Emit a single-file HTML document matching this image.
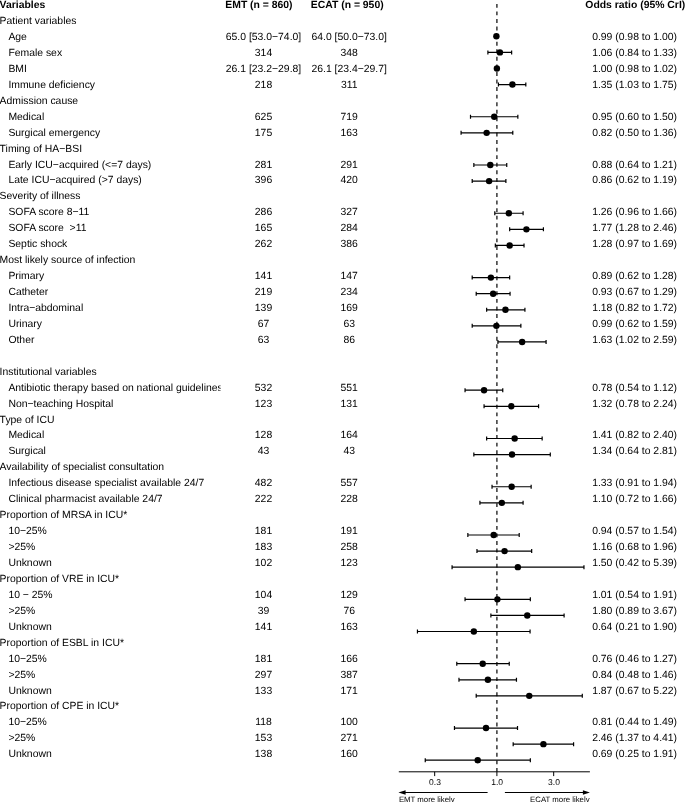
<!DOCTYPE html>
<html><head><meta charset="utf-8"><title>Forest plot</title>
<style>
html,body{margin:0;padding:0;background:#fff;}
body{width:685px;height:802px;overflow:hidden;}
svg{display:block;}
text{font-family:"Liberation Sans",Arial,Helvetica,sans-serif;font-size:10.4px;fill:#000;white-space:pre;text-rendering:geometricPrecision;}
.b{font-weight:bold;}
.s{font-size:8.5px;}
.a{font-size:7.8px;}
</style></head><body>
<svg width="685" height="802" viewBox="0 0 685 802">
<defs><clipPath id="c1"><rect x="0" y="0" width="220.6" height="802"/></clipPath></defs>
<rect width="685" height="802" fill="#fff"/>

<g clip-path="url(#c1)">
<text x="-0.40" y="8.10" class="b" xml:space="preserve">Variables</text>
<text x="-0.40" y="24.04" xml:space="preserve">Patient variables</text>
<text x="8.40" y="39.98" xml:space="preserve">Age</text>
<text x="8.40" y="55.92" xml:space="preserve">Female sex</text>
<text x="8.40" y="71.86" xml:space="preserve">BMI</text>
<text x="8.40" y="87.80" xml:space="preserve">Immune deficiency</text>
<text x="-0.40" y="103.74" xml:space="preserve">Admission cause</text>
<text x="8.40" y="119.68" xml:space="preserve">Medical</text>
<text x="8.40" y="135.62" xml:space="preserve">Surgical emergency</text>
<text x="-0.40" y="151.56" xml:space="preserve">Timing of HA−BSI</text>
<text x="8.40" y="167.50" xml:space="preserve">Early ICU−acquired (&lt;=7 days)</text>
<text x="8.40" y="183.44" xml:space="preserve">Late ICU−acquired (&gt;7 days)</text>
<text x="-0.40" y="199.38" xml:space="preserve">Severity of illness</text>
<text x="8.40" y="215.32" xml:space="preserve">SOFA score 8−11</text>
<text x="8.40" y="231.26" xml:space="preserve">SOFA score  &gt;11</text>
<text x="8.40" y="247.20" xml:space="preserve">Septic shock</text>
<text x="-0.40" y="263.14" xml:space="preserve">Most likely source of infection</text>
<text x="8.40" y="279.08" xml:space="preserve">Primary</text>
<text x="8.40" y="295.02" xml:space="preserve">Catheter</text>
<text x="8.40" y="310.96" xml:space="preserve">Intra−abdominal</text>
<text x="8.40" y="326.90" xml:space="preserve">Urinary</text>
<text x="8.40" y="342.84" xml:space="preserve">Other</text>
<text x="-0.40" y="374.72" xml:space="preserve">Institutional variables</text>
<text x="8.40" y="390.66" xml:space="preserve">Antibiotic therapy based on national guidelines</text>
<text x="8.40" y="406.60" xml:space="preserve">Non−teaching Hospital</text>
<text x="-0.40" y="422.54" xml:space="preserve">Type of ICU</text>
<text x="8.40" y="438.48" xml:space="preserve">Medical</text>
<text x="8.40" y="454.42" xml:space="preserve">Surgical</text>
<text x="-0.40" y="470.36" xml:space="preserve">Availability of specialist consultation</text>
<text x="8.40" y="486.30" xml:space="preserve">Infectious disease specialist available 24/7</text>
<text x="8.40" y="502.24" xml:space="preserve">Clinical pharmacist available 24/7</text>
<text x="-0.40" y="518.18" xml:space="preserve">Proportion of MRSA in ICU*</text>
<text x="8.40" y="534.12" xml:space="preserve">10−25%</text>
<text x="8.40" y="550.06" xml:space="preserve">&gt;25%</text>
<text x="8.40" y="566.00" xml:space="preserve">Unknown</text>
<text x="-0.40" y="581.94" xml:space="preserve">Proportion of VRE in ICU*</text>
<text x="8.40" y="597.88" xml:space="preserve">10 − 25%</text>
<text x="8.40" y="613.82" xml:space="preserve">&gt;25%</text>
<text x="8.40" y="629.76" xml:space="preserve">Unknown</text>
<text x="-0.40" y="645.70" xml:space="preserve">Proportion of ESBL in ICU*</text>
<text x="8.40" y="661.64" xml:space="preserve">10−25%</text>
<text x="8.40" y="677.58" xml:space="preserve">&gt;25%</text>
<text x="8.40" y="693.52" xml:space="preserve">Unknown</text>
<text x="-0.40" y="709.46" xml:space="preserve">Proportion of CPE in ICU*</text>
<text x="8.40" y="725.40" xml:space="preserve">10−25%</text>
<text x="8.40" y="741.34" xml:space="preserve">&gt;25%</text>
<text x="8.40" y="757.28" xml:space="preserve">Unknown</text>
</g>
<text class="b" x="225.3" y="8.10">EMT (n = 860)</text>
<text class="b" x="310.8" y="8.10">ECAT (n = 950)</text>
<text class="b" x="635.3" y="8.10" text-anchor="middle">Odds ratio (95% CrI)</text>
<text x="263.5" y="39.98" text-anchor="middle">65.0 [53.0−74.0]</text>
<text x="349.2" y="39.98" text-anchor="middle">64.0 [50.0−73.0]</text>
<text x="634.6" y="39.98" text-anchor="middle">0.99 (0.98 to 1.00)</text>
<text x="263.5" y="55.92" text-anchor="middle">314</text>
<text x="349.2" y="55.92" text-anchor="middle">348</text>
<text x="634.6" y="55.92" text-anchor="middle">1.06 (0.84 to 1.33)</text>
<text x="263.5" y="71.86" text-anchor="middle">26.1 [23.2−29.8]</text>
<text x="349.2" y="71.86" text-anchor="middle">26.1 [23.4−29.7]</text>
<text x="634.6" y="71.86" text-anchor="middle">1.00 (0.98 to 1.02)</text>
<text x="263.5" y="87.80" text-anchor="middle">218</text>
<text x="349.2" y="87.80" text-anchor="middle">311</text>
<text x="634.6" y="87.80" text-anchor="middle">1.35 (1.03 to 1.75)</text>
<text x="263.5" y="119.68" text-anchor="middle">625</text>
<text x="349.2" y="119.68" text-anchor="middle">719</text>
<text x="634.6" y="119.68" text-anchor="middle">0.95 (0.60 to 1.50)</text>
<text x="263.5" y="135.62" text-anchor="middle">175</text>
<text x="349.2" y="135.62" text-anchor="middle">163</text>
<text x="634.6" y="135.62" text-anchor="middle">0.82 (0.50 to 1.36)</text>
<text x="263.5" y="167.50" text-anchor="middle">281</text>
<text x="349.2" y="167.50" text-anchor="middle">291</text>
<text x="634.6" y="167.50" text-anchor="middle">0.88 (0.64 to 1.21)</text>
<text x="263.5" y="183.44" text-anchor="middle">396</text>
<text x="349.2" y="183.44" text-anchor="middle">420</text>
<text x="634.6" y="183.44" text-anchor="middle">0.86 (0.62 to 1.19)</text>
<text x="263.5" y="215.32" text-anchor="middle">286</text>
<text x="349.2" y="215.32" text-anchor="middle">327</text>
<text x="634.6" y="215.32" text-anchor="middle">1.26 (0.96 to 1.66)</text>
<text x="263.5" y="231.26" text-anchor="middle">165</text>
<text x="349.2" y="231.26" text-anchor="middle">284</text>
<text x="634.6" y="231.26" text-anchor="middle">1.77 (1.28 to 2.46)</text>
<text x="263.5" y="247.20" text-anchor="middle">262</text>
<text x="349.2" y="247.20" text-anchor="middle">386</text>
<text x="634.6" y="247.20" text-anchor="middle">1.28 (0.97 to 1.69)</text>
<text x="263.5" y="279.08" text-anchor="middle">141</text>
<text x="349.2" y="279.08" text-anchor="middle">147</text>
<text x="634.6" y="279.08" text-anchor="middle">0.89 (0.62 to 1.28)</text>
<text x="263.5" y="295.02" text-anchor="middle">219</text>
<text x="349.2" y="295.02" text-anchor="middle">234</text>
<text x="634.6" y="295.02" text-anchor="middle">0.93 (0.67 to 1.29)</text>
<text x="263.5" y="310.96" text-anchor="middle">139</text>
<text x="349.2" y="310.96" text-anchor="middle">169</text>
<text x="634.6" y="310.96" text-anchor="middle">1.18 (0.82 to 1.72)</text>
<text x="263.5" y="326.90" text-anchor="middle">67</text>
<text x="349.2" y="326.90" text-anchor="middle">63</text>
<text x="634.6" y="326.90" text-anchor="middle">0.99 (0.62 to 1.59)</text>
<text x="263.5" y="342.84" text-anchor="middle">63</text>
<text x="349.2" y="342.84" text-anchor="middle">86</text>
<text x="634.6" y="342.84" text-anchor="middle">1.63 (1.02 to 2.59)</text>
<text x="263.5" y="390.66" text-anchor="middle">532</text>
<text x="349.2" y="390.66" text-anchor="middle">551</text>
<text x="634.6" y="390.66" text-anchor="middle">0.78 (0.54 to 1.12)</text>
<text x="263.5" y="406.60" text-anchor="middle">123</text>
<text x="349.2" y="406.60" text-anchor="middle">131</text>
<text x="634.6" y="406.60" text-anchor="middle">1.32 (0.78 to 2.24)</text>
<text x="263.5" y="438.48" text-anchor="middle">128</text>
<text x="349.2" y="438.48" text-anchor="middle">164</text>
<text x="634.6" y="438.48" text-anchor="middle">1.41 (0.82 to 2.40)</text>
<text x="263.5" y="454.42" text-anchor="middle">43</text>
<text x="349.2" y="454.42" text-anchor="middle">43</text>
<text x="634.6" y="454.42" text-anchor="middle">1.34 (0.64 to 2.81)</text>
<text x="263.5" y="486.30" text-anchor="middle">482</text>
<text x="349.2" y="486.30" text-anchor="middle">557</text>
<text x="634.6" y="486.30" text-anchor="middle">1.33 (0.91 to 1.94)</text>
<text x="263.5" y="502.24" text-anchor="middle">222</text>
<text x="349.2" y="502.24" text-anchor="middle">228</text>
<text x="634.6" y="502.24" text-anchor="middle">1.10 (0.72 to 1.66)</text>
<text x="263.5" y="534.12" text-anchor="middle">181</text>
<text x="349.2" y="534.12" text-anchor="middle">191</text>
<text x="634.6" y="534.12" text-anchor="middle">0.94 (0.57 to 1.54)</text>
<text x="263.5" y="550.06" text-anchor="middle">183</text>
<text x="349.2" y="550.06" text-anchor="middle">258</text>
<text x="634.6" y="550.06" text-anchor="middle">1.16 (0.68 to 1.96)</text>
<text x="263.5" y="566.00" text-anchor="middle">102</text>
<text x="349.2" y="566.00" text-anchor="middle">123</text>
<text x="634.6" y="566.00" text-anchor="middle">1.50 (0.42 to 5.39)</text>
<text x="263.5" y="597.88" text-anchor="middle">104</text>
<text x="349.2" y="597.88" text-anchor="middle">129</text>
<text x="634.6" y="597.88" text-anchor="middle">1.01 (0.54 to 1.91)</text>
<text x="263.5" y="613.82" text-anchor="middle">39</text>
<text x="349.2" y="613.82" text-anchor="middle">76</text>
<text x="634.6" y="613.82" text-anchor="middle">1.80 (0.89 to 3.67)</text>
<text x="263.5" y="629.76" text-anchor="middle">141</text>
<text x="349.2" y="629.76" text-anchor="middle">163</text>
<text x="634.6" y="629.76" text-anchor="middle">0.64 (0.21 to 1.90)</text>
<text x="263.5" y="661.64" text-anchor="middle">181</text>
<text x="349.2" y="661.64" text-anchor="middle">166</text>
<text x="634.6" y="661.64" text-anchor="middle">0.76 (0.46 to 1.27)</text>
<text x="263.5" y="677.58" text-anchor="middle">297</text>
<text x="349.2" y="677.58" text-anchor="middle">387</text>
<text x="634.6" y="677.58" text-anchor="middle">0.84 (0.48 to 1.46)</text>
<text x="263.5" y="693.52" text-anchor="middle">133</text>
<text x="349.2" y="693.52" text-anchor="middle">171</text>
<text x="634.6" y="693.52" text-anchor="middle">1.87 (0.67 to 5.22)</text>
<text x="263.5" y="725.40" text-anchor="middle">118</text>
<text x="349.2" y="725.40" text-anchor="middle">100</text>
<text x="634.6" y="725.40" text-anchor="middle">0.81 (0.44 to 1.49)</text>
<text x="263.5" y="741.34" text-anchor="middle">153</text>
<text x="349.2" y="741.34" text-anchor="middle">271</text>
<text x="634.6" y="741.34" text-anchor="middle">2.46 (1.37 to 4.41)</text>
<text x="263.5" y="757.28" text-anchor="middle">138</text>
<text x="349.2" y="757.28" text-anchor="middle">160</text>
<text x="634.6" y="757.28" text-anchor="middle">0.69 (0.25 to 1.91)</text>
<line x1="496.90" y1="3.9" x2="496.90" y2="771.8" stroke="#000" stroke-width="1.4" stroke-dasharray="3.9 3.665" opacity="0.85"/>
<g stroke="#000" stroke-width="1.2" fill="none">
<path d="M495.86 36.30H496.90M495.86 34.30v4M496.90 34.30v4"/>
<path d="M487.89 52.39H511.64M487.89 50.39v4M511.64 50.39v4"/>
<path d="M495.86 68.48H497.92M495.86 66.48v4M497.92 66.48v4"/>
<path d="M498.43 84.56H525.82M498.43 82.56v4M525.82 82.56v4"/>
<path d="M470.50 116.74H517.85M470.50 114.74v4M517.85 114.74v4"/>
<path d="M461.08 132.83H512.79M461.08 130.83v4M512.79 130.83v4"/>
<path d="M473.84 165.00H506.75M473.84 163.00v4M506.75 163.00v4"/>
<path d="M472.19 181.09H505.89M472.19 179.09v4M505.89 179.09v4"/>
<path d="M494.79 213.26H523.09M494.79 211.26v4M523.09 211.26v4"/>
<path d="M509.66 229.35H543.42M509.66 227.35v4M543.42 227.35v4"/>
<path d="M495.33 245.44H524.02M495.33 243.44v4M524.02 243.44v4"/>
<path d="M472.19 277.61H509.66M472.19 275.61v4M509.66 275.61v4"/>
<path d="M476.20 293.70H510.06M476.20 291.70v4M510.06 291.70v4"/>
<path d="M486.64 309.78H524.93M486.64 307.78v4M524.93 307.78v4"/>
<path d="M472.19 325.87H520.87M472.19 323.87v4M520.87 323.87v4"/>
<path d="M497.92 341.96H546.08M497.92 339.96v4M546.08 339.96v4"/>
<path d="M465.05 390.22H502.76M465.05 388.22v4M502.76 388.22v4"/>
<path d="M484.06 406.31H538.58M484.06 404.31v4M538.58 404.31v4"/>
<path d="M486.64 438.48H542.15M486.64 436.48v4M542.15 436.48v4"/>
<path d="M473.84 454.57H550.30M473.84 452.57v4M550.30 452.57v4"/>
<path d="M492.03 486.74H531.15M492.03 484.74v4M531.15 484.74v4"/>
<path d="M479.92 502.83H523.09M479.92 500.83v4M523.09 500.83v4"/>
<path d="M467.85 535.00H519.21M467.85 533.00v4M519.21 533.00v4"/>
<path d="M476.97 551.09H531.68M476.97 549.09v4M531.68 549.09v4"/>
<path d="M452.07 567.17H583.96M452.07 565.17v4M583.96 565.17v4"/>
<path d="M465.05 599.35H530.34M465.05 597.35v4M530.34 597.35v4"/>
<path d="M490.88 615.44H564.10M490.88 613.44v4M564.10 613.44v4"/>
<path d="M417.46 631.52H530.07M417.46 629.52v4M530.07 629.52v4"/>
<path d="M456.77 663.70H509.25M456.77 661.70v4M509.25 661.70v4"/>
<path d="M458.97 679.78H516.46M458.97 677.78v4M516.46 677.78v4"/>
<path d="M476.20 695.87H582.30M476.20 693.87v4M582.30 693.87v4"/>
<path d="M454.47 728.04H517.51M454.47 726.04v4M517.51 726.04v4"/>
<path d="M513.17 744.13H573.59M513.17 742.13v4M573.59 742.13v4"/>
<path d="M425.25 760.22H530.34M425.25 758.22v4M530.34 758.22v4"/>
</g><g fill="#000">
<circle cx="496.38" cy="36.30" r="3.2"/>
<circle cx="499.91" cy="52.39" r="3.2"/>
<circle cx="496.90" cy="68.48" r="3.2"/>
<circle cx="512.41" cy="84.56" r="3.2"/>
<circle cx="494.25" cy="116.74" r="3.2"/>
<circle cx="486.64" cy="132.83" r="3.2"/>
<circle cx="490.29" cy="165.00" r="3.2"/>
<circle cx="489.11" cy="181.09" r="3.2"/>
<circle cx="508.84" cy="213.26" r="3.2"/>
<circle cx="526.41" cy="229.35" r="3.2"/>
<circle cx="509.66" cy="245.44" r="3.2"/>
<circle cx="490.88" cy="277.61" r="3.2"/>
<circle cx="493.15" cy="293.70" r="3.2"/>
<circle cx="505.45" cy="309.78" r="3.2"/>
<circle cx="496.38" cy="325.87" r="3.2"/>
<circle cx="522.15" cy="341.96" r="3.2"/>
<circle cx="484.06" cy="390.22" r="3.2"/>
<circle cx="511.25" cy="406.31" r="3.2"/>
<circle cx="514.66" cy="438.48" r="3.2"/>
<circle cx="512.03" cy="454.57" r="3.2"/>
<circle cx="511.64" cy="486.74" r="3.2"/>
<circle cx="501.83" cy="502.83" r="3.2"/>
<circle cx="493.70" cy="535.00" r="3.2"/>
<circle cx="504.57" cy="551.09" r="3.2"/>
<circle cx="517.85" cy="567.17" r="3.2"/>
<circle cx="497.41" cy="599.35" r="3.2"/>
<circle cx="527.28" cy="615.44" r="3.2"/>
<circle cx="473.84" cy="631.52" r="3.2"/>
<circle cx="482.72" cy="663.70" r="3.2"/>
<circle cx="487.89" cy="679.78" r="3.2"/>
<circle cx="529.25" cy="695.87" r="3.2"/>
<circle cx="486.01" cy="728.04" r="3.2"/>
<circle cx="543.42" cy="744.13" r="3.2"/>
<circle cx="477.72" cy="760.22" r="3.2"/>
</g>
<g stroke="#000" stroke-width="1" fill="none"><path d="M398.8 771.8H589.9"/>
<path d="M434.68 771.8v4.3"/>
<path d="M496.90 771.8v4.3"/>
<path d="M553.68 771.8v4.3"/>
<path d="M401 792.5H487.6M504.9 792.5H587"/></g>
<path d="M398.4 792.5l7.2 -2.2v4.4zM589.9 792.5l-7 -2.2v4.4z" fill="#000"/>
<text class="s" x="434.98" y="784.9" text-anchor="middle">0.3</text>
<text class="s" x="497.20" y="784.9" text-anchor="middle">1.0</text>
<text class="s" x="553.98" y="784.9" text-anchor="middle">3.0</text>
<text class="a" x="398.9" y="802.2">EMT more likely</text>
<text class="a" x="589.6" y="802.2" text-anchor="end">ECAT more likely</text>
</svg></body></html>
